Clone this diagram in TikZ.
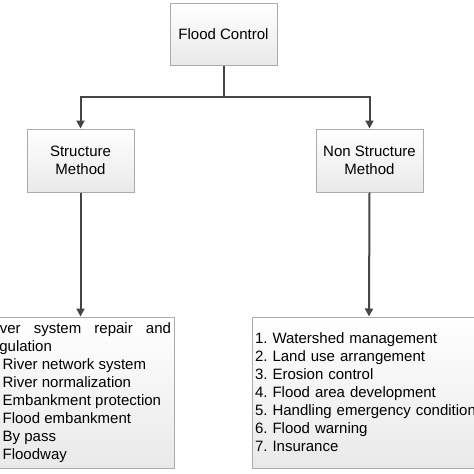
\documentclass[tikz,border=0pt]{standalone}
\usepackage{fontspec}
\setmainfont{Liberation Sans}
\usetikzlibrary{arrows.meta,shadows}
\definecolor{boxline}{HTML}{ABABAB}
\definecolor{boxbot}{HTML}{E9E9E9}
\definecolor{arrcol}{HTML}{454545}
\tikzset{
  box/.style={draw=boxline, line width=1pt, top color=white, bottom color=boxbot,
    drop shadow={shadow xshift=1pt, shadow yshift=-1pt, opacity=0.25, fill=black!40},
    font=\fontsize{15pt}{18pt}\selectfont\frenchspacing, inner sep=3pt},
  arr/.style={draw=arrcol, line width=2pt, -{Triangle[width=8pt,length=8pt]}},
  link/.style={draw=arrcol, line width=2pt}
}
\begin{document}
\begin{tikzpicture}[x=1pt,y=-1pt]
\useasboundingbox (0,0) rectangle (474,474);
\node[box, minimum width=107pt, minimum height=62pt, align=center] (fc) at (223.5,34) {Flood Control};
\node[box, minimum width=107pt, minimum height=63pt, align=center] (sm) at (80.5,160.5) {Structure\\Method};
\node[box, minimum width=107pt, minimum height=63pt, align=center] (nsm) at (369.5,160.5) {Non Structure\\Method};
\node[box, minimum height=151pt, text width=185pt, align=justify] (sl) at (78.5,392.5) {%
\hyphenpenalty=10000\tolerance=9999
\hspace*{-26pt}1. River system repair and regulation\par
2. River network system\par
3. River normalization\par
4. Embankment protection\par
5. Flood embankment\par
6. By pass\par
7. Floodway};
\node[box, minimum height=151pt, text width=228pt, align=left] (nl) at (369,392.5) {%
1. Watershed management\\
2. Land use arrangement\\
3. Erosion control\\
4. Flood area development\\
5. Handling emergency condition\\
6. Flood warning\\
7. Insurance};
\coordinate (j) at (223.5,97);
\draw[link] (fc.south) -- (j);
\draw[arr] (j) -| (sm.north);
\draw[arr] (j) -| (nsm.north);
\draw[arr] (sm.south) -- (sm.south |- sl.north);
\draw[arr] (nsm.south) -- (nl.north);
\end{tikzpicture}
\end{document}
